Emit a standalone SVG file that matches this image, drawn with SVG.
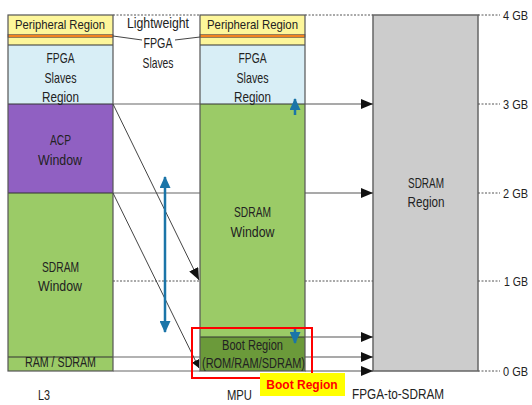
<svg xmlns="http://www.w3.org/2000/svg" width="532" height="405" viewBox="0 0 532 405">
<defs>
<style>
.t{font-family:"Liberation Sans",Arial,sans-serif;font-size:15px;fill:#222;text-anchor:middle}
.pr{font-size:13px}
.gb{font-family:"Liberation Sans",Arial,sans-serif;font-size:12.5px;fill:#222}
.yel{fill:#fdf69b}
.blu{fill:#d8eef6}
.grn{fill:#9bcb67}
.pur{fill:#9060c2}
.dg{fill:#6b9a3a}
.band{fill:#f3831f;stroke:#555;stroke-width:0.6}
.sep{stroke:#333;stroke-width:1.2}
.box{fill:none;stroke:#555;stroke-width:1.2}
.ln{stroke:#666;stroke-width:1.2;fill:none}
.dot{stroke:#555;stroke-width:1;stroke-dasharray:2,1.5;fill:none}
.arr{stroke:#555;stroke-width:1.2;fill:none;marker-end:url(#ah)}
.diag{stroke:#444;stroke-width:1;fill:none}
.bl{stroke:#1b75a8;stroke-width:2.5;fill:none}
</style>
<marker id="ah" markerUnits="userSpaceOnUse" markerWidth="12" markerHeight="10" refX="12" refY="5" orient="auto"><path d="M0,0 L12,5 L0,10 z" fill="#111"/></marker>
<marker id="ahs" markerUnits="userSpaceOnUse" markerWidth="8" markerHeight="8" refX="8" refY="4" orient="auto"><path d="M0,0 L8,4 L0,8 z" fill="#111"/></marker>
<marker id="bh" markerUnits="userSpaceOnUse" markerWidth="12" markerHeight="11" refX="11" refY="5.5" orient="auto-start-reverse"><path d="M0,0 L12,5.5 L0,11 z" fill="#1b75a8"/></marker>
</defs>
<rect width="532" height="405" fill="#fff"/>

<g id="l3">
<rect class="yel" x="8" y="15" width="105" height="30"/>
<rect class="band" x="8" y="34.5" width="105" height="3"/>
<rect class="blu" x="8" y="45" width="105" height="59"/>
<rect class="pur" x="8" y="104" width="105" height="89"/>
<rect class="grn" x="8" y="193" width="105" height="164"/>
<rect class="grn" x="8" y="357" width="105" height="14"/>
<line class="sep" x1="8" y1="45" x2="113" y2="45"/>
<line class="sep" x1="8" y1="104" x2="113" y2="104"/>
<line class="sep" x1="8" y1="193" x2="113" y2="193"/>
<line class="sep" x1="8" y1="357" x2="113" y2="357"/>
<rect class="box" x="8" y="15" width="105" height="356"/>
<text class="t pr" x="60" y="29" textLength="90" lengthAdjust="spacingAndGlyphs">Peripheral Region</text>
<text class="t" x="60.5" y="63" textLength="28" lengthAdjust="spacingAndGlyphs">FPGA</text>
<text class="t" x="60.5" y="83" textLength="32" lengthAdjust="spacingAndGlyphs">Slaves</text>
<text class="t" x="60.5" y="102" textLength="37" lengthAdjust="spacingAndGlyphs">Region</text>
<text class="t" x="60.5" y="145" textLength="21" lengthAdjust="spacingAndGlyphs">ACP</text>
<text class="t" x="60" y="165" textLength="44" lengthAdjust="spacingAndGlyphs">Window</text>
<text class="t" x="60.5" y="272" textLength="37" lengthAdjust="spacingAndGlyphs">SDRAM</text>
<text class="t" x="60" y="291" textLength="44" lengthAdjust="spacingAndGlyphs">Window</text>
<text class="t" x="60.5" y="367" textLength="71" lengthAdjust="spacingAndGlyphs">RAM / SDRAM</text>
<text class="t" x="44" y="400" textLength="12" lengthAdjust="spacingAndGlyphs">L3</text>
</g>

<g id="lightweight">
<text class="t" x="158" y="28" textLength="62" lengthAdjust="spacingAndGlyphs">Lightweight</text>
<text class="t" x="158" y="48" textLength="29" lengthAdjust="spacingAndGlyphs">FPGA</text>
<text class="t" x="158" y="68" textLength="31" lengthAdjust="spacingAndGlyphs">Slaves</text>
</g>

<g id="mpu">
<rect class="yel" x="200" y="15" width="105" height="30"/>
<rect class="band" x="200" y="34.5" width="105" height="3"/>
<rect class="blu" x="200" y="45" width="105" height="59"/>
<rect class="grn" x="200" y="104" width="105" height="233"/>
<rect class="dg" x="200" y="337" width="105" height="34"/>
<line class="sep" x1="200" y1="45" x2="305" y2="45"/>
<line class="sep" x1="200" y1="104" x2="305" y2="104"/>
<line class="sep" x1="200" y1="337" x2="305" y2="337"/>
<rect class="box" x="200" y="15" width="105" height="356"/>
<text class="t pr" x="252.5" y="29" textLength="91" lengthAdjust="spacingAndGlyphs">Peripheral Region</text>
<text class="t" x="252.5" y="63" textLength="28" lengthAdjust="spacingAndGlyphs">FPGA</text>
<text class="t" x="252.5" y="83" textLength="32" lengthAdjust="spacingAndGlyphs">Slaves</text>
<text class="t" x="252.5" y="102" textLength="37" lengthAdjust="spacingAndGlyphs">Region</text>
<text class="t" x="252.5" y="217" textLength="37" lengthAdjust="spacingAndGlyphs">SDRAM</text>
<text class="t" x="252.5" y="237" textLength="44" lengthAdjust="spacingAndGlyphs">Window</text>
<text class="t" x="252.5" y="350" textLength="61" lengthAdjust="spacingAndGlyphs">Boot Region</text>
<text class="t" x="253.5" y="368" textLength="103" lengthAdjust="spacingAndGlyphs">(ROM/RAM/SDRAM)</text>
<text class="t" x="239.5" y="400" textLength="25" lengthAdjust="spacingAndGlyphs">MPU</text>
</g>

<g id="sdram">
<rect x="373" y="15" width="105" height="356" fill="#cccccc" stroke="#666" stroke-width="1.5"/>
<text class="t" x="426" y="188" textLength="36" lengthAdjust="spacingAndGlyphs">SDRAM</text>
<text class="t" x="426" y="207" textLength="37" lengthAdjust="spacingAndGlyphs">Region</text>
<text class="t" x="398" y="399" textLength="92" lengthAdjust="spacingAndGlyphs">FPGA-to-SDRAM</text>
</g>

<g id="scale">
<line class="dot" x1="478" y1="15" x2="500" y2="15"/>
<line class="dot" x1="478" y1="104" x2="500" y2="104"/>
<line class="dot" x1="478" y1="193" x2="500" y2="193"/>
<line class="dot" x1="478" y1="281" x2="500" y2="281"/>
<line class="dot" x1="478" y1="371" x2="500" y2="371"/>
<text class="gb" x="503" y="19.5" textLength="25" lengthAdjust="spacingAndGlyphs">4 GB</text>
<text class="gb" x="503" y="108.5" textLength="25" lengthAdjust="spacingAndGlyphs">3 GB</text>
<text class="gb" x="503" y="197.5" textLength="25" lengthAdjust="spacingAndGlyphs">2 GB</text>
<text class="gb" x="504" y="285.5" textLength="24" lengthAdjust="spacingAndGlyphs">1 GB</text>
<text class="gb" x="503" y="375.5" textLength="25" lengthAdjust="spacingAndGlyphs">0 GB</text>
</g>

<g id="connectors">
<line class="dot" x1="113" y1="15" x2="200" y2="15"/>
<line class="dot" x1="305" y1="15" x2="373" y2="15"/>
<line class="ln" x1="113" y1="104" x2="200" y2="104"/>
<line class="ln" x1="113" y1="193" x2="200" y2="193"/>
<line class="dot" x1="113" y1="281" x2="200" y2="281"/>
<line class="dot" x1="305" y1="281" x2="373" y2="281"/>
<line class="ln" x1="113" y1="357" x2="200" y2="357"/>
<line class="ln" x1="113" y1="371" x2="200" y2="371"/>
<line class="arr" x1="305" y1="104" x2="373" y2="104"/>
<line class="arr" x1="305" y1="193" x2="373" y2="193"/>
<line class="arr" x1="305" y1="337" x2="373" y2="337"/>
<line class="arr" x1="305" y1="357" x2="373" y2="357"/>
<line class="arr" x1="305" y1="371" x2="373" y2="371"/>
<line class="diag" x1="113" y1="104" x2="199" y2="280" marker-end="url(#ah)"/>
<line class="diag" x1="113" y1="193" x2="199" y2="368" marker-end="url(#ahs)"/>
<line class="diag" x1="113" y1="36" x2="142" y2="40"/>
<line class="diag" x1="175" y1="40" x2="200" y2="37"/>
<line class="bl" x1="165" y1="177" x2="165" y2="332" marker-start="url(#bh)" marker-end="url(#bh)"/>
<line class="bl" x1="295" y1="115" x2="295" y2="99" marker-end="url(#bh)"/>
<line class="bl" x1="295" y1="327" x2="295" y2="343" marker-end="url(#bh)"/>
</g>

<g id="callout">
<rect x="192" y="328" width="120" height="50" fill="none" stroke="#ff0000" stroke-width="2"/>
<rect x="260" y="373" width="85" height="23" fill="#ffff00"/>
<text x="302" y="389" font-family="Liberation Sans, Arial, sans-serif" font-size="12" font-weight="bold" fill="#ff0000" text-anchor="middle">Boot Region</text>
</g>
</svg>
